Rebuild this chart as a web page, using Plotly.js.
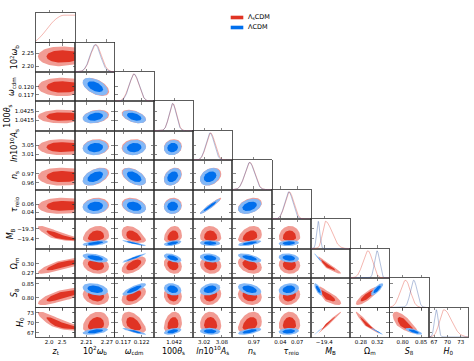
<!DOCTYPE html>
<html><head><meta charset="utf-8">
<script src="https://cdn.plot.ly/plotly-3.0.1.min.js"></script>
<style>html,body{margin:0;padding:0;background:#fff}#chart{width:474px;height:361px}</style>
</head><body><div id="chart"></div>
<script>
// ---------- parameters ----------
const paramLabels = ['<i>z</i><sub>t</sub>','10<sup>2</sup><i>ω</i><sub>b</sub>','<i>ω</i><sub>cdm</sub>','100<i>θ</i><sub>s</sub>','<i>ln</i>10<sup>10</sup><i>A</i><sub>s</sub>','<i>n</i><sub>s</sub>','<i>τ</i><sub>reio</sub>','<i>M</i><sub>B</sub>','Ω<sub>m</sub>','<i>S</i><sub>8</sub>','<i>H</i><sub>0</sub>'];
const axisMin = [1.5, 2.178, 0.1147, 1.0403, 2.983, 0.952, 0.024, -19.50, 0.254, 0.765, 65.8];
const axisMax = [3.0, 2.292, 0.1253, 1.0436, 3.115, 0.985, 0.095, -19.205, 0.349, 0.870, 74.6];
const xTickVals = [[2.0,2.5],[2.21,2.27],[0.117,0.122],[1.042],[3.02,3.08],[0.97],[0.04,0.07],[-19.4],[0.28,0.32],[0.80,0.85],[67,70,73]];
const xTickText = [['2.0','2.5'],['2.21','2.27'],['0.117','0.122'],['1.042'],['3.02','3.08'],['0.97'],['0.04','0.07'],['\u221219.4'],['0.28','0.32'],['0.80','0.85'],['67','70','73']];
const yTickVals = [[],[2.20,2.25],[0.117,0.120],[1.0415,1.0425],[3.01,3.05],[0.96,0.97],[0.04,0.06],[-19.4,-19.3],[0.27,0.30],[0.80,0.85],[67,70,73]];
const yTickText = [[],['2.20','2.25'],['0.117','0.120'],['1.0415','1.0425'],['3.01','3.05'],['0.96','0.97'],['0.04','0.06'],['\u221219.4','\u221219.3'],['0.27','0.30'],['0.80','0.85'],['67','70','73']];

// ---------- model 1: Λ_sCDM (red) ----------
const redName = 'Λ<sub>s</sub>CDM';
const redMode  = [2.43, 2.238, 0.1199, 1.04190, 3.042, 0.9667, 0.056, -19.39, 0.297, 0.808, 69.2];
const redSigLo = [0.35, 0.0156, 0.00134, 0.00031, 0.0146, 0.0041, 0.0078, 0.022, 0.012, 0.014, 0.95];
const redSigHi = [0.60, 0.0156, 0.00134, 0.00031, 0.0146, 0.0041, 0.0080, 0.048, 0.011, 0.013, 1.7];
const redCorr = [
  [],
  [0.0],
  [0.0, -0.5],
  [0.0, 0.25, -0.45],
  [0.0, 0.1, 0.1, 0.1],
  [0.0, 0.45, -0.5, 0.3, 0.3],
  [0.05, 0.1, -0.25, 0.05, 0.95, 0.35],
  [-0.9, 0.2, -0.45, 0.2, -0.05, 0.3, 0.05],
  [0.85, -0.2, 0.55, -0.2, -0.1, -0.3, -0.05, -0.95],
  [0.8, -0.15, 0.45, -0.1, 0.2, -0.15, 0.15, -0.8, 0.85],
  [-0.9, 0.2, -0.45, 0.2, -0.05, 0.3, 0.05, 0.99, -0.97, -0.75]
];
// z_t 1D marginal
const ztGrid    = [1.50,1.60,1.70,1.80,1.90,2.00,2.10,2.20,2.30,2.40,2.50,2.60,2.70,2.80,2.90,3.00];
const ztDensity = [0.06,0.14,0.24,0.35,0.47,0.59,0.71,0.81,0.89,0.95,0.99,1.00,1.00,1.00,1.00,1.00];

// ---------- model 2: ΛCDM (blue) ----------
const blueName = 'ΛCDM';
const blueMode = [null, 2.236, 0.1200, 1.04188, 3.040, 0.9665, 0.055, -19.445, 0.319, 0.830, 67.5];
const blueSig  = [null, 0.015, 0.0013, 0.0003, 0.014, 0.004, 0.0075, 0.012, 0.006, 0.009, 0.42];
const blueCorr = [
  [],
  [null],
  [null, -0.5],
  [null, 0.25, -0.45],
  [null, 0.1, 0.1, 0.1],
  [null, 0.45, -0.5, 0.3, 0.3],
  [null, 0.1, -0.25, 0.05, 0.95, 0.35],
  [null, 0.5, -0.9, 0.45, -0.1, 0.6, 0.15],
  [null, -0.5, 0.95, -0.5, -0.25, -0.6, -0.2, -0.98],
  [null, -0.3, 0.8, -0.2, 0.3, -0.4, 0.2, -0.75, 0.8],
  [null, 0.5, -0.9, 0.45, -0.1, 0.6, 0.15, 0.99, -0.98, -0.75]
];

// ---------- styling ----------
const RED1 = '#E03424', RED2 = 'rgb(241,156,148)';
const BLUE1 = '#006FED', BLUE2 = 'rgb(132,184,246)';
const FONT = 'DejaVu Sans';
const N = paramLabels.length;
const R1 = 1.51, R2 = 2.448;   // 68% / 95% 2D levels
const W = 474, H = 361, ML = 36, MR = 6, MT = 13, MB = 24;
const PW = W - ML - MR, PH = H - MT - MB;
const px = v => (v - ML) / PW;
const py = v => 1 - (v - MT) / PH;

const xId = j => 'x' + (j === 0 ? '' : j + 1);
const yRowId = i => 'y' + (i === 1 ? '' : i);
const yDiagId = i => 'y' + (11 + i);
const axKey = id => id[0] + 'axis' + id.slice(1);

function contour(mx, slx, shx, my, sly, shy, rho, r) {
  const xs = [], ys = [], n = 90;
  const s = Math.sqrt(1 - rho * rho);
  for (let k = 0; k <= n; k++) {
    const t = 2 * Math.PI * k / n;
    const a = Math.cos(t), b = rho * Math.cos(t) + s * Math.sin(t);
    xs.push(mx + r * a * (a < 0 ? slx : shx));
    ys.push(my + r * b * (b < 0 ? sly : shy));
  }
  return [xs, ys];
}
function fillTrace(xy, color, xa, ya) {
  return {type: 'scatter', mode: 'lines', x: xy[0], y: xy[1], fill: 'toself', fillcolor: color,
          line: {width: 0, color: color}, xaxis: xa, yaxis: ya, hoverinfo: 'skip', showlegend: false};
}
function curve(m, slo, shi, j) {
  const xs = [], ys = [], n = 160;
  for (let k = 0; k <= n; k++) {
    const x = axisMin[j] + (axisMax[j] - axisMin[j]) * k / n;
    const s = x < m ? slo : shi;
    xs.push(x); ys.push(Math.exp(-0.5 * Math.pow((x - m) / s, 2)));
  }
  return [xs, ys];
}

const traces = [];
// off-diagonal panels
for (let i = 1; i < N; i++) {
  for (let j = 0; j < i; j++) {
    const xa = xId(j), ya = yRowId(i);
    const rr = redCorr[i][j];
    traces.push(fillTrace(contour(redMode[j], redSigLo[j], redSigHi[j], redMode[i], redSigLo[i], redSigHi[i], rr, R2), RED2, xa, ya));
    traces.push(fillTrace(contour(redMode[j], redSigLo[j], redSigHi[j], redMode[i], redSigLo[i], redSigHi[i], rr, R1), RED1, xa, ya));
    if (blueMode[j] !== null) {
      const rb = blueCorr[i][j];
      traces.push(fillTrace(contour(blueMode[j], blueSig[j], blueSig[j], blueMode[i], blueSig[i], blueSig[i], rb, R2), BLUE2, xa, ya));
      traces.push(fillTrace(contour(blueMode[j], blueSig[j], blueSig[j], blueMode[i], blueSig[i], blueSig[i], rb, R1), BLUE1, xa, ya));
    }
  }
}
// diagonal panels
const diagLine = c => ({color: c, width: 0.6});
for (let i = 0; i < N; i++) {
  const xa = xId(i), ya = yDiagId(i);
  if (i === 0) {
    traces.push({type: 'scatter', mode: 'lines', x: ztGrid, y: ztDensity, line: Object.assign(diagLine(RED1), {shape: 'spline'}),
                 xaxis: xa, yaxis: ya, hoverinfo: 'skip', showlegend: false, opacity: 0.6});
  } else {
    const rc = curve(redMode[i], redSigLo[i], redSigHi[i], i);
    traces.push({type: 'scatter', mode: 'lines', x: rc[0], y: rc[1], line: diagLine(RED1),
                 xaxis: xa, yaxis: ya, hoverinfo: 'skip', showlegend: false, opacity: 0.6});
    const bc = curve(blueMode[i], blueSig[i], blueSig[i], i);
    traces.push({type: 'scatter', mode: 'lines', x: bc[0], y: bc[1], line: diagLine('#2a4f9e'),
                 xaxis: xa, yaxis: ya, hoverinfo: 'skip', showlegend: false, opacity: 0.6});
  }
}

const lineStyle = {showline: true, linecolor: '#333', linewidth: 0.8, showgrid: false, zeroline: false,
                   ticks: 'inside', ticklen: 2.5, tickwidth: 0.6, tickcolor: '#333', mirror: 'allticks'};
const layout = {
  width: W, height: H, margin: {l: ML, r: MR, t: MT, b: MB},
  paper_bgcolor: '#fff', plot_bgcolor: 'rgba(0,0,0,0)',
  font: {family: FONT, color: '#000'},
  showlegend: false,
  shapes: [], annotations: []
};
for (let j = 0; j < N; j++) {
  layout[axKey(xId(j))] = Object.assign({}, lineStyle, {
    domain: [j / N, (j + 1) / N], range: [axisMin[j], axisMax[j]],
    anchor: j < N - 1 ? yRowId(N - 1) : yDiagId(N - 1),
    tickmode: 'array', tickvals: xTickVals[j], ticktext: xTickText[j],
    tickfont: {size: 5.5, family: FONT},
    title: {text: paramLabels[j], font: {size: 8, family: FONT}, standoff: 3}
  });
}
for (let i = 1; i < N; i++) {
  layout[axKey(yRowId(i))] = Object.assign({}, lineStyle, {
    domain: [1 - (i + 1) / N, 1 - i / N], range: [axisMin[i], axisMax[i]], anchor: 'x',
    tickmode: 'array', tickvals: yTickVals[i], ticktext: yTickText[i],
    tickfont: {size: 5.5, family: FONT},
    title: {text: paramLabels[i], font: {size: 8, family: FONT}, standoff: 2}
  });
}
for (let i = 0; i < N; i++) {
  layout[axKey(yDiagId(i))] = {
    domain: [1 - (i + 1) / N, 1 - i / N], range: [0, 1.08], anchor: xId(i),
    showline: true, linecolor: '#333', linewidth: 0.8, mirror: true, showgrid: false, zeroline: false,
    showticklabels: false, ticks: ''
  };
}
// legend (patches + labels)
const legendItems = [[redName, RED1, 17.5], [blueName, BLUE1, 27.5]];
legendItems.forEach(([name, col, yc]) => {
  layout.shapes.push({type: 'rect', xref: 'paper', yref: 'paper', x0: px(230.7), x1: px(243.3),
                      y0: py(yc + 1.8), y1: py(yc - 1.8), fillcolor: col, line: {width: 0}});
  layout.annotations.push({xref: 'paper', yref: 'paper', x: px(246), y: py(yc), xanchor: 'left', yanchor: 'middle',
                           text: name, showarrow: false, font: {size: 6.5, family: FONT, color: '#000'}});
});

Plotly.newPlot('chart', traces, layout, {displayModeBar: false, staticPlot: true});
</script></body></html>
